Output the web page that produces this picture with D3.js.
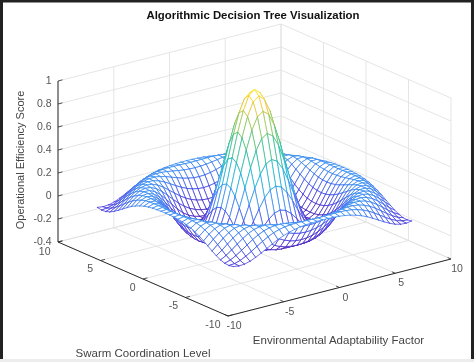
<!DOCTYPE html>
<html><head><meta charset="utf-8">
<script src="https://cdn.jsdelivr.net/npm/d3@7"></script>
<style>html,body{margin:0;padding:0;background:#fff}svg{display:block;filter:blur(0.3px)}text{font-family:"Liberation Sans",Arial,sans-serif}</style>
</head><body><svg id="c" width="474" height="362"></svg>
<script>
const title = "Algorithmic Decision Tree Visualization";
const xLabel = "Environmental Adaptability Factor";
const yLabel = "Swarm Coordination Level";
const zLabel = "Operational Efficiency Score";
const xTicks = [-10,-5,0,5,10];
const yTicks = [-10,-5,0,5,10];
const zTicks = [-0.4,-0.2,0,0.2,0.4,0.6,0.8,1];
// mesh positions along each floor axis
const gridSteps = [-8,-7.5,-7,-6.5,-6,-5.5,-5,-4.5,-4,-3.5,-3,-2.5,-2,-1.5,-1,-0.5,0,0.5,1,1.5,2,2.5,3,3.5,4,4.5,5,5.5,6,6.5,7,7.5,8];
// surface heights for one quadrant, rows/columns counted outward from the centre; the picture is mirror symmetric
const surfaceQuadrant = [
[1,.959,.841,.665,.455,.239,.047,-.100,-.189,-.217,-.192,-.128,-.047,.033,.094,.125,.124],
[.959,.919,.805,.632,.428,.219,.033,-.109,-.193,-.217,-.189,-.125,-.043,.036,.096,.126,.123],
[.841,.805,.699,.540,.352,.161,-.007,-.131,-.202,-.216,-.182,-.114,-.033,.044,.100,.127,.121],
[.665,.632,.540,.402,.239,.077,-.063,-.162,-.212,-.211,-.167,-.096,-.016,.057,.107,.128,.118],
[.455,.428,.352,.239,.109,-.019,-.124,-.193,-.217,-.198,-.145,-.071,.007,.073,.115,.128,.112],
[.239,.219,.161,.077,-.019,-.109,-.177,-.213,-.212,-.176,-.114,-.040,.033,.090,.123,.126,.103],
[.047,.033,-.007,-.063,-.124,-.177,-.210,-.216,-.192,-.142,-.075,-.003,.061,.107,.128,.121,.090],
[-.100,-.109,-.131,-.162,-.193,-.213,-.216,-.196,-.155,-.096,-.029,.036,.089,.121,.128,.110,.073],
[-.189,-.193,-.202,-.212,-.217,-.212,-.192,-.155,-.104,-.043,.019,.073,.111,.128,.121,.094,.052],
[-.217,-.217,-.216,-.211,-.198,-.176,-.142,-.096,-.043,.013,.064,.103,.125,.126,.107,.072,.026],
[-.192,-.189,-.182,-.167,-.145,-.114,-.075,-.029,.019,.064,.100,.123,.128,.115,.085,.044,-.001],
[-.128,-.125,-.114,-.096,-.071,-.040,-.003,.036,.073,.103,.123,.128,.118,.093,.056,.013,-.029],
[-.047,-.043,-.033,-.016,.007,.033,.061,.089,.111,.125,.128,.118,.095,.062,.022,-.019,-.054],
[.033,.036,.044,.057,.073,.090,.107,.121,.128,.126,.115,.093,.062,.025,-.013,-.048,-.075],
[.094,.096,.100,.107,.115,.123,.128,.128,.121,.107,.085,.056,.022,-.013,-.046,-.072,-.088],
[.125,.126,.127,.128,.128,.126,.121,.110,.094,.072,.044,.013,-.019,-.048,-.072,-.087,-.091],
[.124,.123,.121,.118,.112,.103,.090,.073,.052,.026,-.001,-.029,-.054,-.075,-.088,-.091,-.084]
];

const svg = d3.select("#c");
// oblique projection made of linear scales: floor x, floor y, height
const xPx = d3.scaleLinear([-10,10],[-111.5,111.5]);
const xPy = d3.scaleLinear([-10,10],[28.5,-28.5]);
const yPx = d3.scaleLinear([-10,10],[85,-85]);
const yPy = d3.scaleLinear([-10,10],[37,-37]);
const zPy = d3.scaleLinear([-0.4,1],[0,-161]);
const cx = 254.5, cy = 250.5;
const P = (x,y,z)=>[cx+xPx(x)+yPx(y), cy+xPy(x)+yPy(y)+zPy(z)];
const color = d3.scaleLinear()
  .domain([-0.22,-0.08,0.05,0.13,0.3,0.5,0.72,0.88,1])
  .range(["#4a20b8","#4a40e0","#3f70f0","#3a90f0","#20b4d8","#2cbf9c","#8cc860","#f0c840","#ffe81e"])
  .interpolate(d3.interpolateRgb).clamp(true);

const seg=(g,a,b,col,w)=>g.append("line").attr("x1",a[0]).attr("y1",a[1]).attr("x2",b[0]).attr("y2",b[1]).attr("stroke",col).attr("stroke-width",w);

// frame
svg.append("rect").attr("width",474).attr("height",362).attr("fill","#fff");
svg.append("rect").attr("x",0).attr("y",359).attr("width",474).attr("height",3).attr("fill","#ededed");
svg.append("rect").attr("x",0).attr("y",0).attr("width",474).attr("height",2.5).attr("fill","#222");
svg.append("rect").attr("x",0).attr("y",0).attr("width",3).attr("height",359).attr("fill","#222");
svg.append("rect").attr("x",471).attr("y",0).attr("width",3).attr("height",359).attr("fill","#222");

// grid
const grid = svg.append("g");
const gc="#e2e2e2";
zTicks.forEach(z=>{ seg(grid,P(-10,10,z),P(10,10,z),gc,.9); seg(grid,P(10,10,z),P(10,-10,z),gc,.9); });
xTicks.forEach(x=>{ seg(grid,P(x,10,-0.4),P(x,10,1),gc,.9); seg(grid,P(x,-10,-0.4),P(x,10,-0.4),gc,.9); });
yTicks.forEach(y=>{ seg(grid,P(10,y,-0.4),P(10,y,1),gc,.9); seg(grid,P(-10,y,-0.4),P(10,y,-0.4),gc,.9); });

// axes
const ax = svg.append("g"), axc="#2a2a2a";
seg(ax,P(-10,10,-0.4),P(-10,10,1),axc,1);
seg(ax,P(-10,10,-0.4),P(-10,-10,-0.4),axc,1);
seg(ax,P(-10,-10,-0.4),P(10,-10,-0.4),axc,1);
zTicks.forEach(z=>{ seg(ax,P(-10,10,z),P(-9.6,10,z),axc,.8);
  const p=P(-10,10,z);
  ax.append("text").attr("x",p[0]-6.5).attr("y",p[1]+2.5).attr("text-anchor","end").attr("font-size",10.5).attr("fill","#555").text(z);
});
yTicks.forEach(y=>{ seg(ax,P(-10,y,-0.4),P(-9.6,y,-0.4),axc,.8);
  const p=P(-10,y,-0.4);
  ax.append("text").attr("x",p[0]-7.5).attr("y",p[1]+(y===10?13:11.5)).attr("text-anchor","end").attr("font-size",10.5).attr("fill","#555").text(y);
});
xTicks.forEach(x=>{ seg(ax,P(x,-10,-0.4),P(x,-9.6,-0.4),axc,.8);
  const p=P(x,-10,-0.4);
  ax.append("text").attr("x",p[0]+6).attr("y",p[1]+13).attr("text-anchor","middle").attr("font-size",10.5).attr("fill","#555").text(x);
});

// surface, far quads first
const n = gridSteps.length, c = (n-1)/2;
const Z = (i,j)=>surfaceQuadrant[Math.abs(i-c)][Math.abs(j-c)];
const quads = [];
for(let i=0;i<n-1;i++) for(let j=0;j<n-1;j++){
  const x0=gridSteps[i],x1=gridSteps[i+1],y0=gridSteps[j],y1=gridSteps[j+1];
  quads.push({i,j,depth:2.85*(x0+x1)+3.7*(y0+y1)});
}
quads.sort((a,b)=>d3.descending(a.depth,b.depth));
const mesh = svg.append("g").attr("stroke-linecap","round");
quads.forEach(q=>{
  const vs=[[q.i,q.j],[q.i+1,q.j],[q.i+1,q.j+1],[q.i,q.j+1]];
  const pts=vs.map(v=>P(gridSteps[v[0]],gridSteps[v[1]],Z(v[0],v[1])));
  mesh.append("path").attr("d","M"+pts.map(p=>p.join(",")).join("L")+"Z").attr("fill","#fff").attr("stroke","none");
  for(let e=0;e<4;e++){
    const a=vs[e],b=vs[(e+1)%4];
    seg(mesh,pts[e],pts[(e+1)%4],color((Z(a[0],a[1])+Z(b[0],b[1]))/2),.8);
  }
});

// labels
svg.append("text").attr("x",253).attr("y",19).attr("text-anchor","middle").attr("font-size",11.4).attr("font-weight","bold").attr("fill","#111").text(title);
svg.append("text").attr("x",338.5).attr("y",344).attr("text-anchor","middle").attr("font-size",11.5).attr("fill","#444").text(xLabel);
svg.append("text").attr("x",143).attr("y",356.5).attr("text-anchor","middle").attr("font-size",11.5).attr("fill","#444").text(yLabel);
svg.append("text").attr("transform","translate(24,160) rotate(-90)").attr("text-anchor","middle").attr("font-size",11).attr("fill","#444").text(zLabel);
</script></body></html>
